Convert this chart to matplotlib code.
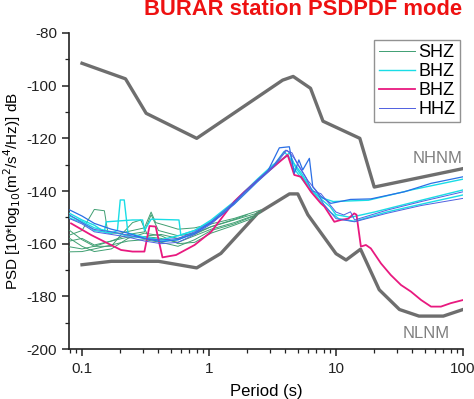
import matplotlib
matplotlib.use("Agg")
import matplotlib.pyplot as plt
from matplotlib.ticker import FixedLocator, NullFormatter, LogLocator, FixedFormatter

plt.rcParams['font.family'] = ['Liberation Sans', 'DejaVu Sans']
plt.rcParams['axes.unicode_minus'] = False

# Peterson noise models
nhnm_p = [0.1, 0.22, 0.32, 0.8, 3.8, 4.6, 6.3, 7.9, 15.4, 20.0, 100.0]
nhnm_db = [-91.5, -97.4, -110.5, -120.0, -97.9, -96.5, -101.0, -113.5, -120.0, -138.5, -131.5]
nlnm_p = [0.1, 0.17, 0.4, 0.8, 1.24, 2.4, 4.3, 5.0, 6.0, 10.0, 12.0, 15.6, 21.9, 31.6, 45.0, 70.0, 100.0]
nlnm_db = [-168.0, -166.7, -166.7, -169.2, -163.7, -148.6, -141.1, -141.1, -149.0, -163.8, -166.2, -162.1, -177.5, -185.0, -187.5, -187.5, -185.0]

# SHZ (green)
shz = [
    ([0.08, 0.1, 0.125, 0.15, 0.16, 0.2, 0.25, 0.31, 0.35, 0.38, 0.45, 0.57, 0.77, 1.04, 1.58, 2.56],
     [-156.7, -155, -147, -147.5, -156, -156, -155, -154, -148, -152, -153, -154.5, -154, -152.5, -150.4, -147.2]),
    ([0.08, 0.1, 0.125, 0.17, 0.23, 0.31, 0.35, 0.4, 0.57, 0.77, 1.04, 1.58, 2.56],
     [-159, -158, -160.5, -159, -156.5, -155.5, -149, -155, -157, -156, -153.6, -151, -148]),
    ([0.08, 0.1, 0.125, 0.17, 0.23, 0.31, 0.42, 0.57, 0.77, 1.04, 1.58, 2.2],
     [-161.2, -162, -161, -159, -157.5, -157.3, -158, -159.5, -157, -154.5, -152, -149.5]),
    ([0.08, 0.1, 0.125, 0.17, 0.23, 0.31, 0.42, 0.57, 0.77, 1.04, 1.58, 2.4],
     [-163.1, -163, -162, -160.5, -159, -158.5, -159.5, -161, -158.5, -155, -152.5, -149]),
    ([0.08, 0.1, 0.125, 0.17, 0.23, 0.31, 0.42, 0.57, 0.77, 1.04, 1.58, 2.3],
     [-158, -161, -163, -162, -158, -156, -157, -160, -159.5, -156, -153, -150]),
    ([0.08, 0.1, 0.125, 0.17, 0.2, 0.25, 0.29, 0.33, 0.42, 0.57, 0.77, 1.04, 1.58, 2.0],
     [-155, -158.5, -161, -161, -157, -152, -151, -157, -156.5, -158, -156.5, -153.5, -150.8, -149]),
]

# BHZ (cyan)
bhz_c = [
    ([0.08, 0.1, 0.125, 0.17, 0.19, 0.2, 0.215, 0.23, 0.31, 0.42, 0.57, 0.77, 1.04, 1.58, 2.4, 3.2, 3.9, 4.4, 5.3, 6.35, 7.6, 9.0, 10.0, 13.0, 20.0, 47.0, 100.0],
     [-150.3, -152, -155, -156, -155, -143.4, -143.4, -156, -157.5, -158.5, -157, -155, -151.5, -144.5, -136, -130.5, -125, -128, -133, -139, -143, -146, -149, -150, -148, -143.5, -139.6]),
    ([0.08, 0.1, 0.125, 0.15, 0.155, 0.25, 0.3, 0.31, 0.35, 0.58, 0.6, 0.77, 1.04, 1.58, 2.4, 3.2, 4.2, 4.6, 5.3, 6.35, 7.6, 9.5, 18.0, 40.0, 100.0],
     [-148.5, -151, -153, -155.5, -151.7, -151, -151, -155, -150.7, -151, -156.7, -155, -151, -144, -135.5, -130, -126.5, -131, -135, -140, -142.5, -144, -143.5, -139.5, -135.5]),
    ([0.08, 0.1, 0.125, 0.17, 0.23, 0.31, 0.42, 0.57, 0.77, 1.04, 1.58, 2.4, 3.2, 4.3, 4.8, 5.5, 6.5, 7.6, 9.0, 10.5, 14.0, 25.0, 47.0, 100.0],
     [-149.5, -151.5, -154, -155.5, -157, -158, -159, -158.5, -156, -152, -145, -136.5, -131, -125.5, -131, -135, -140, -144, -148, -150.5, -151.5, -148, -145, -141.5]),
]

# BHZ (magenta)
bhz_m_p = [0.082, 0.118, 0.169, 0.203, 0.25, 0.31, 0.34, 0.38, 0.43, 0.55, 0.77, 1.04, 1.58, 1.9, 2.9, 4.16, 4.42, 4.69, 5.3, 6.35, 7.6, 8.1, 9.7, 10.9, 12.5, 13.9, 14.5, 15.7, 17.2, 18.8, 22.6, 27.0, 32.5, 38.9, 46.8, 56.0, 67.0, 80.0, 100.0]
bhz_m_db = [-152.3, -156.7, -160.5, -162.4, -163, -163, -153.3, -153.5, -165.2, -164.3, -160.5, -155.5, -144, -140.3, -132.7, -126.3, -130.1, -133.9, -134.6, -140.3, -144.7, -145.9, -151.7, -151, -150.5, -148.5, -149, -161.1, -160.5, -161.8, -167.5, -171.9, -175.7, -178.2, -181.4, -183.9, -183.9, -182.6, -181.4]

# HHZ (blue / violet)
hhz = [
    ([0.08, 0.1, 0.125, 0.17, 0.23, 0.31, 0.42, 0.57, 0.77, 1.04, 1.3, 1.58, 1.9, 2.4, 2.9, 3.58, 4.29, 4.7, 5.1, 5.47, 6.17, 6.56, 7.6, 9.1, 13.0, 18.8, 34.5, 56.0, 100.0],
     [-147.2, -149.5, -152.3, -154.5, -156, -158, -159.3, -158.5, -156, -152, -148.5, -144.5, -140.5, -136, -132.5, -123.6, -123.2, -133.3, -128.2, -132, -127.6, -138.4, -142, -144.7, -143.2, -143, -140.3, -137.1, -134.6]),
    ([0.08, 0.1, 0.125, 0.17, 0.31, 0.42, 0.57, 0.77, 1.04, 1.58, 2.4, 3.2, 4.0, 4.5, 5.0, 5.8, 6.5, 7.6, 10.0, 11.5, 13.0, 14.0, 25.5, 47.0, 100.0],
     [-149.1, -152, -154.6, -155.5, -158, -158.6, -158, -155.5, -151.7, -144.2, -135.8, -130.5, -124.5, -125.5, -130, -135, -140, -141, -148, -149.1, -147.9, -151, -147.2, -144, -140.3]),
    ([0.08, 0.1, 0.125, 0.17, 0.23, 0.31, 0.42, 0.57, 0.77, 1.04, 1.58, 2.4, 3.2, 4.1, 4.6, 5.2, 6.0, 7.0, 8.0, 10.0, 14.0, 25.0, 47.0, 100.0],
     [-150.5, -152.5, -155.5, -156.5, -157.5, -159, -160, -159.5, -156.5, -152.5, -145, -136.5, -131, -124.5, -127, -131, -136, -140, -145, -150.5, -151.7, -148.5, -145.5, -142.8]),
]

GRAY = '#6e6e6e'
GREEN = '#3f9f72'
CYAN = '#19dde6'
MAGENTA = '#e8197f'
BLUE = '#4f5fe0'
BLUE2 = '#2a6fe6'

fig = plt.figure(figsize=(4.74, 3.99), dpi=100)
ax = fig.add_axes([0.1456, 0.1253, 0.8312, 0.792])

ax.plot(nhnm_p, nhnm_db, color=GRAY, lw=2.4, zorder=2)
ax.plot(nlnm_p, nlnm_db, color=GRAY, lw=2.4, zorder=2)

for i, (p, d) in enumerate(shz):
    ax.plot(p, d, color=GREEN, lw=0.7, zorder=3, label='SHZ' if i == 0 else None)
for i, (p, d) in enumerate(bhz_c):
    ax.plot(p, d, color=CYAN, lw=1.0, zorder=4, label='BHZ' if i == 0 else None)
ax.plot(bhz_m_p, bhz_m_db, color=MAGENTA, lw=1.3, zorder=5, label='BHZ')
for i, (p, d) in enumerate(hhz):
    ax.plot(p, d, color=BLUE2 if i == 0 else BLUE, lw=0.9 if i == 0 else 0.7, zorder=6,
            label='HHZ' if i == 1 else None)

ax.set_xscale('log')
ax.set_xlim(0.079, 100)
ax.set_ylim(-200, -80)
ax.xaxis.set_major_locator(FixedLocator([0.1, 1, 10, 100]))
ax.xaxis.set_major_formatter(FixedFormatter(['0.1', '1', '10', '100']))
ax.xaxis.set_minor_locator(LogLocator(base=10, subs=range(2, 10)))
ax.xaxis.set_minor_formatter(NullFormatter())
ax.yaxis.set_major_locator(FixedLocator([-200, -180, -160, -140, -120, -100, -80]))
ax.yaxis.set_minor_locator(FixedLocator([-190, -170, -150, -130, -110, -90]))

for s in ['top', 'right']:
    ax.spines[s].set_visible(False)
for s in ['left', 'bottom']:
    ax.spines[s].set_linewidth(1.2)
    ax.spines[s].set_color('#222222')
ax.tick_params(which='major', direction='out', length=5, width=1.1, labelsize=11, colors='#222222')
ax.tick_params(which='minor', direction='out', length=3, width=0.9, colors='#222222')
ax.tick_params(axis='x', pad=4)

ax.set_xlabel('Period (s)', fontsize=12, labelpad=6)
ax.set_ylabel('PSD [10*log$_{10}$(m$^2$/s$^4$/Hz)] dB', fontsize=11)
ax.yaxis.set_label_coords(-0.118, 0.5)

ax.text(0.998, 0.604, 'NHNM', transform=ax.transAxes, ha='right', va='center',
        fontsize=12, color='#808080')
ax.text(0.967, 0.048, 'NLNM', transform=ax.transAxes, ha='right', va='center',
        fontsize=12, color='#808080')

leg = ax.legend(loc='upper right', bbox_to_anchor=(0.993, 0.978), fontsize=13, frameon=True,
                fancybox=False, edgecolor='#777777', handlelength=2.0, handletextpad=0.2,
                labelspacing=0.1, borderpad=0.25, borderaxespad=0.0)
leg.get_frame().set_linewidth(1.0)

fig.text(0.976, 0.975, 'BURAR station PSDPDF mode', ha='right', va='center',
         fontsize=15.8, fontweight='bold', color='#ee1111')

fig.savefig('out.png', dpi=100)
